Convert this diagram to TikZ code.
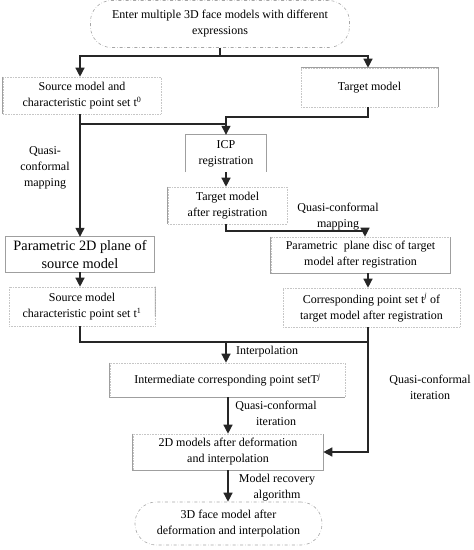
\documentclass[tikz,border=0pt]{standalone}
\usepackage{fontspec}
\setmainfont{Liberation Serif}
\usetikzlibrary{arrows.meta,calc}
\begin{document}
\begin{tikzpicture}[x=1pt,y=-1pt,
  every node/.style={font=\fontsize{12}{16}\selectfont, align=center, inner sep=0pt},
  box/.style={draw=gray!45, densely dotted, line width=0.6pt},
  term/.style={draw=gray!70, dash dot, line width=0.6pt, rounded corners=21pt},
  side/.style={draw=gray!75, line width=0.8pt},
  line/.style={draw=black!85, line width=1.3pt},
  arr/.style={line, -{Triangle[width=9pt,length=9pt]}},
  lab/.style={font=\fontsize{12}{16}\selectfont}]
\useasboundingbox (0,0) rectangle (474,550);
\coordinate (cL) at (80,0);
\coordinate (cM) at (226,0);
\coordinate (cR) at (368,0);

% nodes
\node[term, minimum width=259pt, minimum height=47pt] (start) at (220,24) {Enter multiple 3D face models with different\\expressions};
\node[box, minimum width=158pt, minimum height=37pt] (src) at (82,95.5) {Source model and\\characteristic point set t\textsuperscript{0}};
\node[box, minimum width=137pt, minimum height=39pt] (tgt) at (369.5,87.5) {Target model};
\node[minimum width=80pt, minimum height=37pt] (icp) at (226,153.5) {ICP\\registration};
\node[box, minimum width=119pt, minimum height=37pt] (tgtreg) at (227.5,205.5) {Target model\\after registration};
\node[minimum width=148pt, minimum height=35pt, font=\fontsize{14.3}{17.5}\selectfont] (par2d) at (80,254.5) {Parametric 2D plane of\\source model};
\node[box, minimum width=179pt, minimum height=36pt] (pardisc) at (360.5,255) {Parametric\ \ plane disc of target\\model after registration};
\node[box, minimum width=146pt, minimum height=39pt] (srcchar) at (82,306.5) {Source model\\characteristic point set t\textsuperscript{1}};
\node[box, minimum width=177pt, minimum height=39pt] (corr) at (371.5,307.5) {Corresponding point set t\textsuperscript{\textit{j}} of\\target model after registration};
\node[box, minimum width=235pt, minimum height=34pt] (inter) at (227.5,380) {Intermediate corresponding point setT\textsuperscript{\textit{j}}};
\node[box, minimum width=190pt, minimum height=36pt] (d2) at (228,452) {2D models after deformation\\and interpolation};
\node[term, minimum width=187pt, minimum height=43pt] (end) at (228.5,523.5) {3D face model after\\deformation and interpolation};

% solid sides
\draw[side] (src.north west) -- (src.south west);
\draw[side] (tgt.north west) -- (tgt.north east) -- (tgt.south east);
\draw[side] (icp.south west) -- (icp.north west) -- (icp.north east) -- (icp.south east);
\draw[side] (tgtreg.north west) -- (tgtreg.south west);
\draw[side] (par2d.north west) rectangle (par2d.south east);
\draw[side] (pardisc.north west) -- (pardisc.south west) -- (pardisc.south east) -- (pardisc.north east);
\draw[side] (srcchar.north east) -- ($(srcchar.south east)!0.25!(srcchar.north east)$);
\draw[side] (inter.north west) -- (inter.south west) -- (inter.south east);
\draw[side] (d2.north west) -- (d2.south west) -- (d2.south east) -- (d2.north east);

% connectors
\coordinate (j1) at (220,56);
\draw[line] (start.south) -- (j1);
\draw[arr] (j1) -| (src.north -| cL);
\draw[arr] (j1) -| (tgt.north -| cR);
\coordinate (j2) at (226,117);
\draw[arr] (tgt.south -| cR) |- (j2) -- (icp.north);
\draw[arr] (src.south -| cL) -- (par2d.north -| cL);
\coordinate (j3) at (80,124);
\coordinate (j3b) at (226,124);
\draw[line] (j3) -- (j3b);
\draw[arr] (icp.south) -- (icp.south |- tgtreg.north);
\coordinate (j4) at (365,231);
\draw[arr] (tgtreg.south -| cM) |- (j4) -- (j4 |- pardisc.north);
\draw[arr] (par2d.south -| cL) -- (srcchar.north -| cL);
\draw[arr] (pardisc.south -| cR) -- (corr.north -| cR);
\coordinate (j5) at (368,342);
\coordinate (j6) at (226,342);
\draw[line] (srcchar.south -| cL) |- (j5);
\draw[arr] (j6) -- (inter.north -| cM);
\draw[arr] (corr.south -| cR) |- (d2.east);
\draw[arr] (inter.south -| d2.north) -- (d2.north);
\draw[arr] (d2.south) -- (d2.south |- end.north);

% labels
\node[lab] (l1) at (45,168) {Quasi-\\conformal\\mapping};
\node[lab] (l2) at (338,217) {Quasi-conformal\\mapping};
\node[lab] (l3) at (267,352) {Interpolation};
\node[lab] (l4) at (430,387) {Quasi-conformal\\iteration};
\node[lab] (l5) at (276,413) {Quasi-conformal\\iteration};
\node[lab] (l6) at (277,488) {Model recovery\\algorithm};
\end{tikzpicture}
\end{document}
